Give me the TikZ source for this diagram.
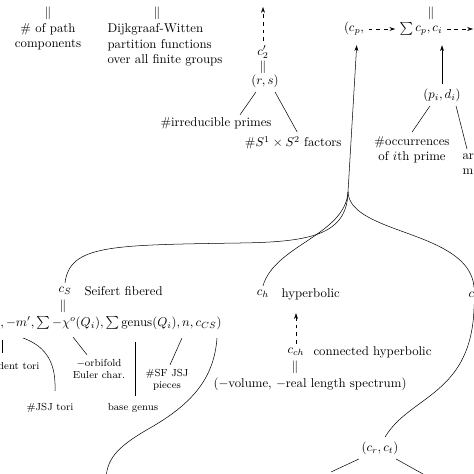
\documentclass[tikz,border=0pt]{standalone}
\usepackage{amsmath,amssymb}
\usetikzlibrary{calc,positioning,arrows.meta}

\begin{document}
\begin{tikzpicture}[x=0.0275cm, y=-0.0275cm,
    >={Stealth[length=4.5pt,width=3pt]},
    tag/.style={font=\footnotesize, align=center},
    dasharrow/.style={->, dashed}]
    \useasboundingbox (0,0) rectangle (474,474);
    \clip (0,0) rectangle (474,474);

    % Top left: what the invariants count
    \node (eqA) at (48,13) {$\|$};
    \node[align=center] (paths) at (48,37) {\# of path\\components};
    \node (eqB) at (157,13) {$\|$};
    \node[align=left, anchor=west] (dw) at (103,45) {Dijkgraaf-Witten\\partition functions\\over all finite groups};

    % c_2' and its pair
    \coordinate (c2top) at (263,7);
    \node (c2) at (263,52) {$c_2'$};
    \node (eqC) at (263,67) {$\|$};
    \node (rs) at (265,81) {$(r,s)$};
    \node (irr) at (216,123) {\#irreducible primes};
    \node[anchor=east] (ss) at (346,143) {$\#S^1\times S^2$ factors};
    \draw[dasharrow] (c2) -- (c2top);
    \draw ($(rs.south)+(-9,0)$) -- ($(irr.north)+(24,2)$);
    \draw ($(rs.south)+(10,0)$) -- ($(ss.north)+(4,0)$);

    % Top right: the prime part
    \node (cp) at (354,29) {$(c_p,$};
    \node (sum) at (421,29) {$\sum c_p, c_i$};
    \node (eqD) at (431,13) {$\|$};
    \coordinate (sumout) at (473,29);
    \draw[dasharrow] (cp) -- (sum);
    \draw[dasharrow] (sum) -- (sumout);
    \node (pd) at (442,95) {$(p_i,d_i)$};
    \draw[->, shorten >=4pt] (pd) -- (pd |- sum.south);
    \node[align=center] (occ) at (412,150) {\#occurrences\\of $i$th prime};
    \node[align=left, anchor=west] (ar) at (458,164) {ar\\m};
    \draw ($(pd.south)+(-12,0)$) -- (occ.north);
    \draw ($(pd.south)+(14,0)$) -- ($(ar.north west)+(9,0)$);

    % Fork into the three kinds of pieces
    \coordinate (fork) at (348,192);
    \draw[->, shorten >=4pt] (fork) -- ($(cp.south)+(3,0)$);
    \node (cS) at (65,291) {$c_S$};
    \node[anchor=west] (sf) at (80,291) {Seifert fibered};
    \node (ch) at (263,294) {$c_h$};
    \node[anchor=west] (hyp) at (277,294) {hyperbolic};
    \node[anchor=west] (cr) at (464,296) {$c_r$};
    \draw (fork) .. controls (347,235) and (310,242) .. (240,243)
        .. controls (110,245) and (70,245) .. (cS.north);
    \draw (fork) .. controls (345,235) and (275,245) .. (ch.north);
    \draw (fork) .. controls (350,235) and (470,230) .. (cr.north);

    % Hyperbolic part
    \node (cch) at (296,352) {$c_{ch}$};
    \node[anchor=west] (conn) at (309,352) {connected hyperbolic};
    \draw[dasharrow, shorten >=7pt] (cch) -- (cch |- hyp.south);
    \node (eqF) at (295,367) {$\|$};
    \node (vol) at (310,384) {$(-$volume, $-$real length spectrum$)$};

    % Seifert fibered part
    \node (eqE) at (63,306) {$\|$};
    \node[anchor=east] (sfform) at (226,323) {$(\ldots, -m', \sum -\chi^o(Q_i), \sum \mathrm{genus}(Q_i), n, c_{CS})$};
    \coordinate (mA) at (2,340);
    \coordinate (mB) at (23,338);
    \coordinate (mC) at (73,337);
    \coordinate (mD) at (135,342);
    \coordinate (mE) at (182,338);
    \coordinate (mF) at (217,338);
    \coordinate (sfout) at (106,482);
    \node[tag, anchor=east] (indep) at (44,367) {\#independent tori};
    \node[tag] (jsj) at (50,408) {\#JSJ tori};
    \node[tag] (orb) at (99,369) {$-$orbifold\\Euler char.};
    \node[tag] (base) at (133,408) {base genus};
    \node[tag] (sfp) at (167,380) {\#SF JSJ\\pieces};
    \draw (mA) -- ++(0,13);
    \draw (mB) .. controls (48,347) and (56,365) .. ($(jsj.north)+(5,-8)$);
    \draw (mC) -- ($(orb.north)+(-12,0)$);
    \draw (mD) -- ($(mD |- base.north)+(0,-3)$);
    \draw (mE) -- ($(sfp.north)+(3,0)$);
    \draw (mF) .. controls (214,380) and (190,405) .. (150,428)
        .. controls (115,448) and (106,460) .. (sfout);

    % The remaining pair
    \node (crct) at (380,448) {$(c_r,c_t)$};
    \coordinate (crL) at (331,472);
    \coordinate (crR) at (423,474);
    \draw (cr.south) .. controls (473,395) and (410,395) .. ($(crct.north)+(5,0)$);
    \draw ($(crct.south west)+(2,0)$) -- (crL);
    \draw ($(crct.south east)+(-7,0)$) -- (crR);
\end{tikzpicture}
\end{document}
